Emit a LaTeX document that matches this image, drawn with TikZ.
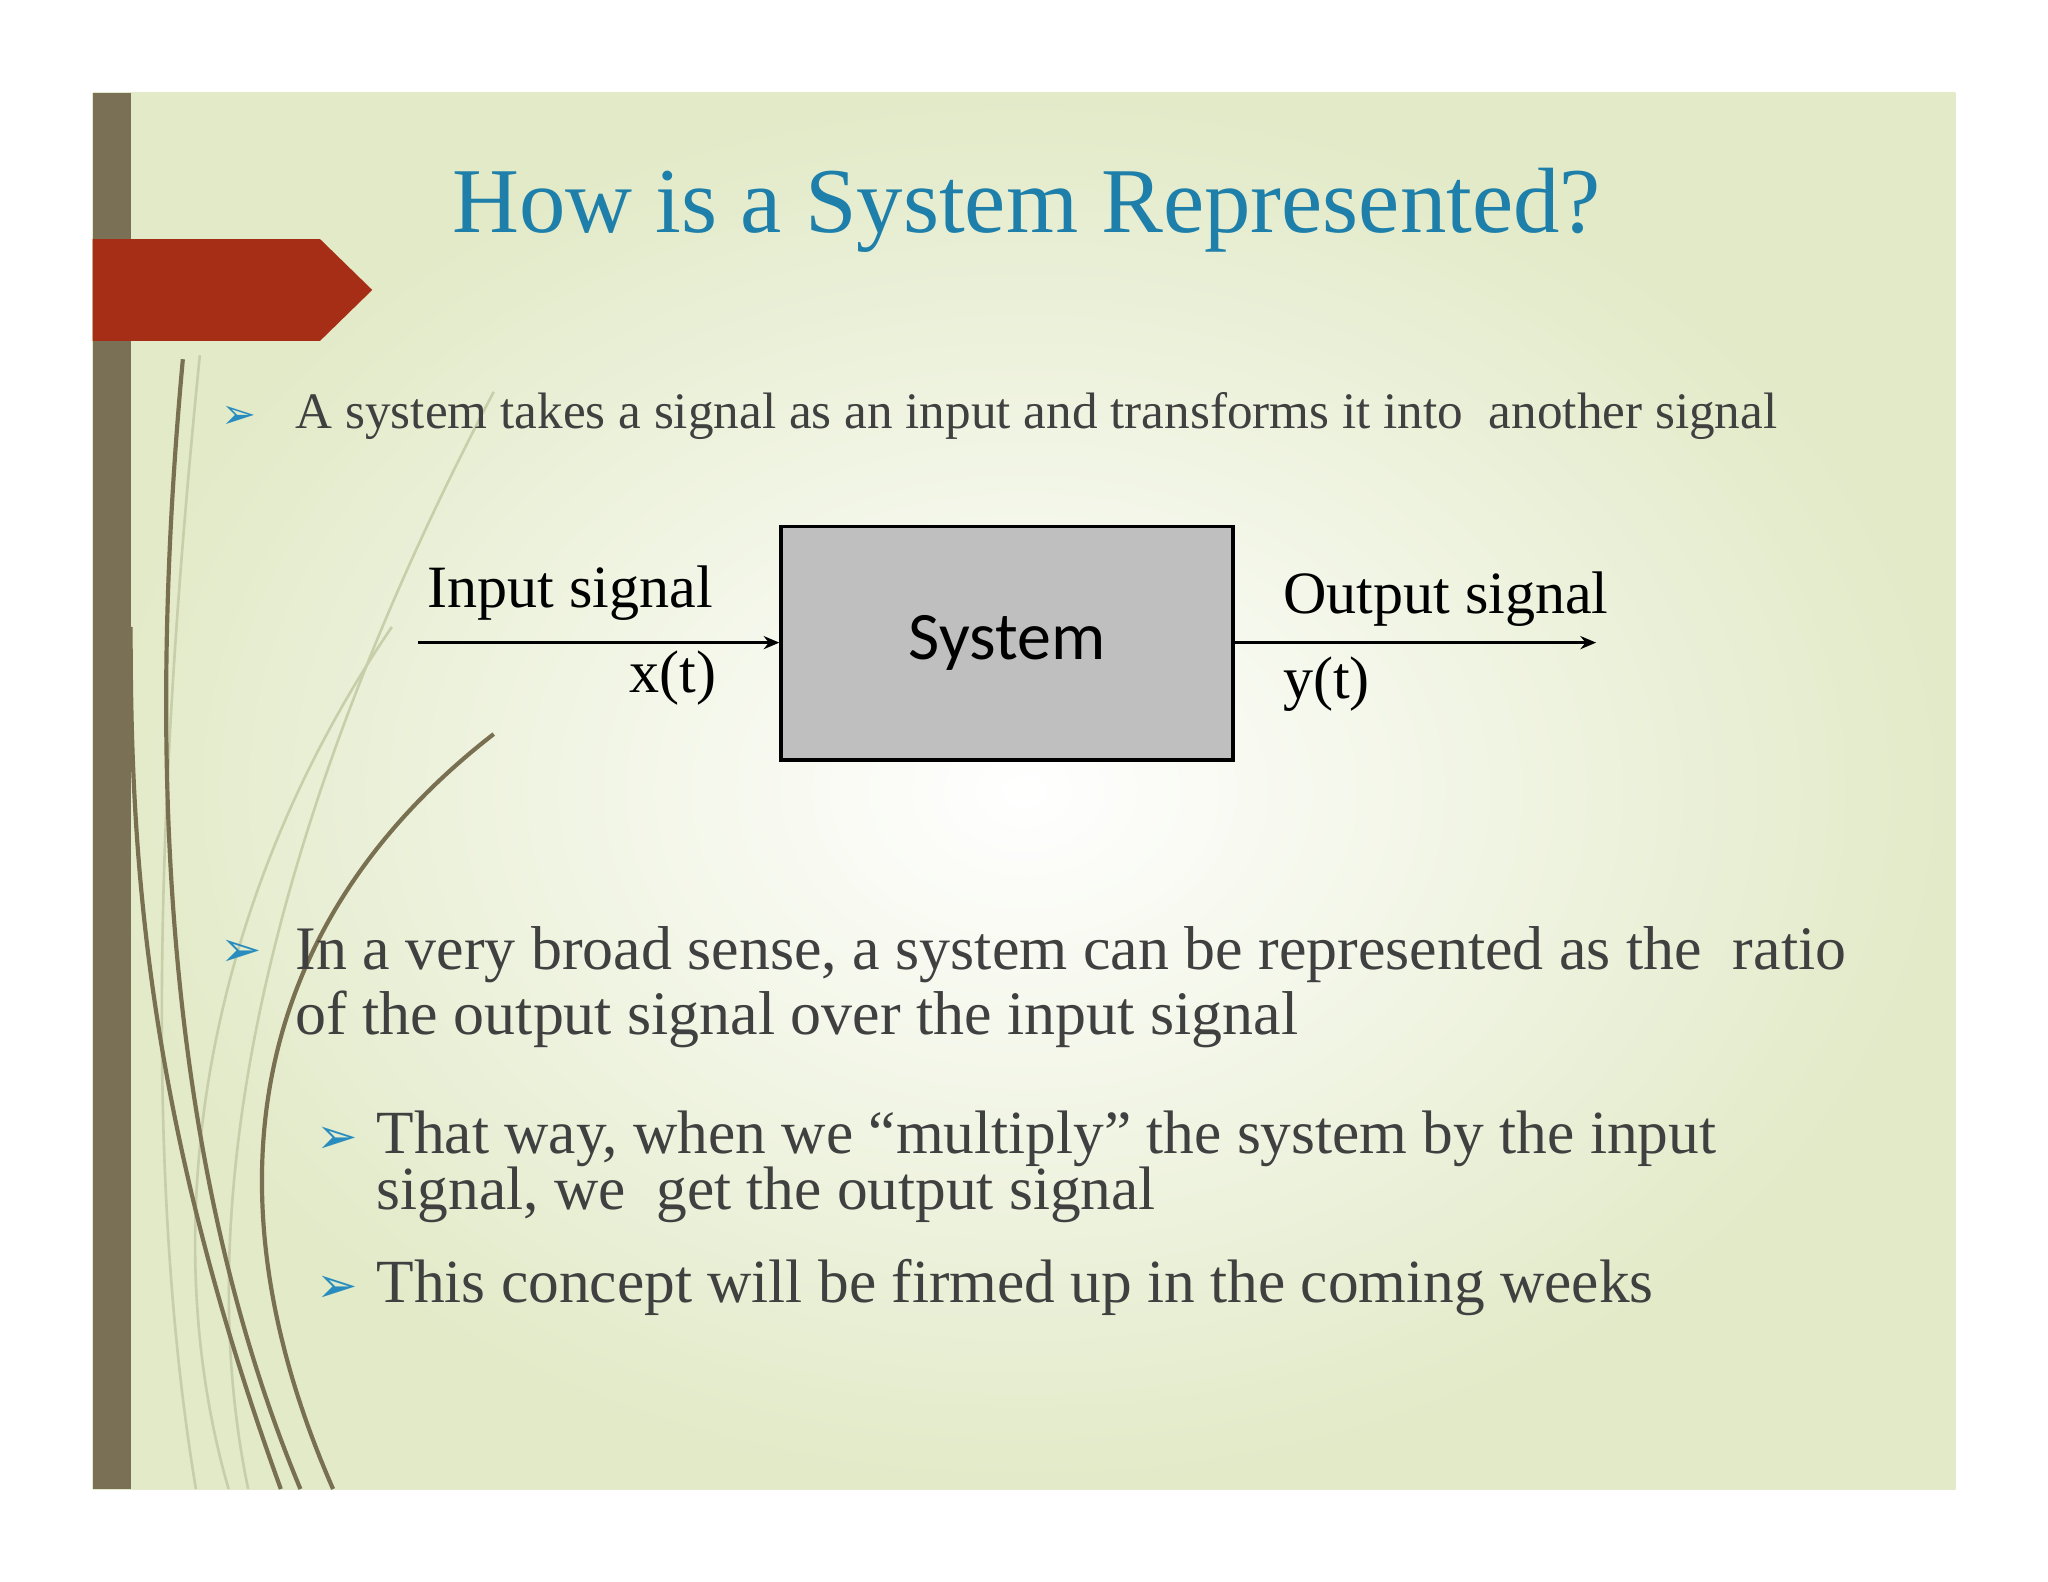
\documentclass[tikz,border=0pt]{standalone}
\usepackage{fontspec}
\setmainfont{Liberation Serif}
\newfontfamily\dejavu{DejaVu Sans}
\newfontfamily\carl{Carlito}
\usetikzlibrary{arrows.meta}
\definecolor{bgout}{RGB}{226,234,200}
\definecolor{barc}{RGB}{122,112,85}
\definecolor{redc}{RGB}{166,46,22}
\definecolor{titc}{RGB}{30,128,170}
\definecolor{txtc}{RGB}{64,64,64}
\definecolor{bulc}{RGB}{40,140,190}
\definecolor{grass}{RGB}{120,112,80}
\definecolor{grassl}{RGB}{200,205,170}
\tikzset{
  txt/.style={anchor=base west,inner sep=0pt,text=txtc,font=\fontsize{#1}{#1}\selectfont},
  bul/.style={anchor=base,inner sep=0pt,text=bulc,font=\dejavu\fontsize{#1}{#1}\selectfont},
  lbl/.style={anchor=base west,inner sep=0pt,text=black,font=\fontsize{23}{23}\selectfont},
  sig/.style={-{Stealth[length=6pt,width=5pt]},line width=1.2pt},
  gr/.style={grass,line width=1.6pt},
  grl/.style={grassl,line width=1pt}
}
\begin{document}
\begin{tikzpicture}[x=0.5pt,y=-0.5pt]
\useasboundingbox (0,0) rectangle (1568,1211);
\fill[white] (0,0) rectangle (1568,1211);
\shade[inner color=white,outer color=bgout] (71,71) rectangle (1497,1140);
% grass
\draw[grl] (150,1140) .. controls (110,900) and (120,600) .. (153,272);
\draw[grl] (190,1140) .. controls (140,900) and (220,600) .. (378,300);
\draw[grl] (175,1140) .. controls (120,950) and (150,700) .. (300,480);
\draw[gr] (230,1140) .. controls (130,900) and (110,600) .. (140,275);
\draw[gr] (255,1140) .. controls (150,900) and (200,700) .. (378,562);
\draw[gr] (215,1140) .. controls (110,850) and (100,650) .. (100,480);
\fill[barc] (71,71) rectangle (100,1140);
\fill[redc] (71,183) -- (245,183) -- (285,222) -- (245,261) -- (71,261) -- cycle;
\node[anchor=base,inner sep=0pt,text=titc,font=\fontsize{35.5}{35.5}\selectfont] (title) at (786,178) {How is a System Represented?};
\node[bul=16] (b1) at (183,328) {➢};
\node[txt=19.6] (t1) at (226,328) {A system takes a signal as an input and transforms it into\ \ another signal};
\node[draw=black,line width=1.3pt,fill=black!25,minimum width=173pt,minimum height=89.5pt,inner sep=0pt,font=\carl\fontsize{26}{26}\selectfont] (sys) at (771,492.5) {System};
\coordinate (in) at (320,492);
\coordinate (out) at (1222,492);
\draw[sig] (in) -- (sys.west|-in);
\draw[sig] (sys.east|-out) -- (out);
\node[lbl] (il) at (327,465) {Input signal};
\node[lbl,anchor=base east] (xt) at (549,530) {x(t)};
\node[lbl] (ol) at (982,470) {Output signal};
\node[lbl] (yt) at (982,535) {y(t)};
\node[bul=19] (b2) at (185,740) {➢};
\node[txt=23.7] (t2a) at (226,742) {In a very broad sense, a system can be represented as the\ \ ratio};
\node[txt=23.7] (t2b) at (226,792) {of the output signal over the input signal};
\node[bul=19] (b3) at (258,883) {➢};
\node[txt=23.5] (t3a) at (288,883) {That way, when we “multiply” the system by the input};
\node[txt=23.5] (t3b) at (288,926) {signal, we\ \ get the output signal};
\node[bul=19] (b4) at (258,997) {➢};
\node[txt=23.5] (t4) at (288,997) {This concept will be firmed up in the coming weeks};
\end{tikzpicture}
\end{document}
